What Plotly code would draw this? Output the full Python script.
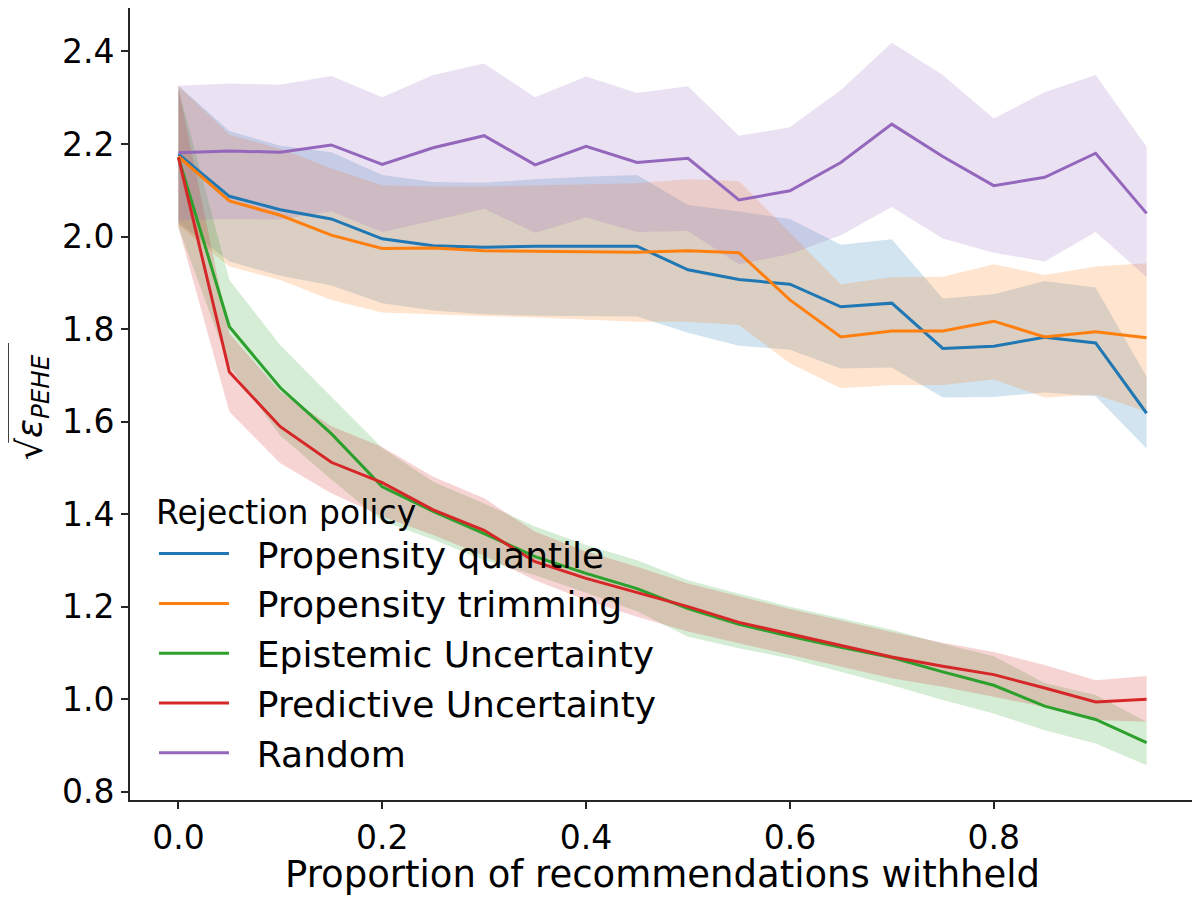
import plotly.graph_objects as go

x_vals = [0.0, 0.05, 0.1, 0.15, 0.2, 0.25, 0.3, 0.35, 0.4, 0.45,
          0.5, 0.55, 0.6, 0.65, 0.7, 0.75, 0.8, 0.85, 0.9, 0.95]

series_names = ["Propensity quantile", "Propensity trimming", "Epistemic Uncertainty",
                "Predictive Uncertainty", "Random"]

quantile_mean = [2.178, 2.087, 2.058, 2.038, 1.995, 1.980, 1.977, 1.979, 1.979, 1.979,
                 1.928, 1.907, 1.897, 1.848, 1.856, 1.758, 1.763, 1.782, 1.770, 1.618]
quantile_upper = [2.326, 2.228, 2.196, 2.182, 2.133, 2.118, 2.116, 2.124, 2.129, 2.133,
                  2.068, 2.054, 2.038, 1.982, 1.994, 1.866, 1.875, 1.904, 1.890, 1.697]
quantile_lower = [2.030, 1.946, 1.915, 1.894, 1.856, 1.840, 1.832, 1.829, 1.828, 1.827,
                  1.792, 1.764, 1.755, 1.715, 1.717, 1.652, 1.653, 1.663, 1.655, 1.542]

trimming_mean = [2.173, 2.077, 2.046, 2.003, 1.974, 1.975, 1.969, 1.968, 1.966, 1.966,
                 1.969, 1.965, 1.863, 1.783, 1.796, 1.796, 1.817, 1.783, 1.794, 1.781]
trimming_upper = [2.326, 2.220, 2.190, 2.147, 2.111, 2.108, 2.108, 2.110, 2.112, 2.115,
                  2.124, 2.120, 2.008, 1.897, 1.912, 1.913, 1.940, 1.917, 1.935, 1.942]
trimming_lower = [2.025, 1.935, 1.906, 1.863, 1.836, 1.832, 1.828, 1.825, 1.821, 1.816,
                  1.816, 1.809, 1.726, 1.672, 1.679, 1.679, 1.691, 1.652, 1.658, 1.621]

epistemic_mean = [2.171, 1.805, 1.673, 1.574, 1.459, 1.406, 1.358, 1.308, 1.272, 1.239,
                  1.196, 1.162, 1.136, 1.112, 1.090, 1.059, 1.030, 0.985, 0.956, 0.906]
epistemic_upper = [2.320, 1.906, 1.765, 1.655, 1.543, 1.470, 1.423, 1.373, 1.333, 1.300,
                   1.257, 1.228, 1.200, 1.175, 1.150, 1.120, 1.093, 1.035, 1.009, 0.951]
epistemic_lower = [2.020, 1.720, 1.570, 1.475, 1.385, 1.345, 1.300, 1.268, 1.230, 1.190,
                   1.135, 1.110, 1.088, 1.059, 1.030, 0.998, 0.969, 0.933, 0.904, 0.857]

predictive_mean = [2.171, 1.707, 1.589, 1.512, 1.468, 1.409, 1.365, 1.297, 1.261, 1.230,
                   1.200, 1.166, 1.141, 1.117, 1.091, 1.071, 1.053, 1.024, 0.994, 1.000]
predictive_upper = [2.320, 1.790, 1.665, 1.590, 1.545, 1.481, 1.434, 1.362, 1.319, 1.286,
                    1.250, 1.222, 1.195, 1.170, 1.145, 1.122, 1.102, 1.074, 1.041, 1.050]
predictive_lower = [2.020, 1.621, 1.510, 1.445, 1.395, 1.355, 1.310, 1.257, 1.214, 1.178,
                    1.146, 1.120, 1.095, 1.070, 1.045, 1.027, 1.005, 0.983, 0.955, 0.951]

random_mean = [2.181, 2.185, 2.182, 2.198, 2.156, 2.192, 2.218, 2.155, 2.195, 2.160,
               2.169, 2.079, 2.099, 2.160, 2.243, 2.173, 2.110, 2.128, 2.180, 2.050]
random_upper = [2.326, 2.331, 2.328, 2.347, 2.301, 2.349, 2.374, 2.301, 2.346, 2.310,
                2.325, 2.218, 2.236, 2.317, 2.419, 2.349, 2.255, 2.312, 2.349, 2.194]
random_lower = [2.035, 2.038, 2.037, 2.054, 2.010, 2.034, 2.060, 2.008, 2.041, 2.010,
                2.012, 1.940, 1.962, 2.003, 2.064, 1.996, 1.965, 1.946, 2.010, 1.912]

x_ticks = [0.0, 0.2, 0.4, 0.6, 0.8]
y_ticks = [0.8, 1.0, 1.2, 1.4, 1.6, 1.8, 2.0, 2.2, 2.4]

colors = ["#1f77b4", "#ff7f0e", "#2ca02c", "#d62728", "#9467bd"]
band_colors = ["rgba(31,119,180,0.2)", "rgba(255,127,14,0.2)", "rgba(44,160,44,0.2)",
               "rgba(214,39,40,0.2)", "rgba(148,103,189,0.2)"]

means = [quantile_mean, trimming_mean, epistemic_mean, predictive_mean, random_mean]
uppers = [quantile_upper, trimming_upper, epistemic_upper, predictive_upper, random_upper]
lowers = [quantile_lower, trimming_lower, epistemic_lower, predictive_lower, random_lower]

fig = go.Figure()

for i in range(5):
    fig.add_trace(go.Scatter(
        x=x_vals + x_vals[::-1],
        y=uppers[i] + lowers[i][::-1],
        fill="toself", fillcolor=band_colors[i],
        line=dict(width=0), mode="lines",
        showlegend=False, hoverinfo="skip"))

for i in range(5):
    fig.add_trace(go.Scatter(
        x=x_vals, y=means[i], mode="lines",
        name="\u00a0\u00a0" + series_names[i],
        line=dict(color=colors[i], width=3)))

font_family = "DejaVu Sans"

fig.update_layout(
    width=1200, height=900,
    paper_bgcolor="white", plot_bgcolor="white",
    margin=dict(l=122, r=13, t=0, b=108),
    font=dict(family=font_family, color="black"),
    showlegend=True,
    legend=dict(
        x=0.0225, y=0.403, xanchor="left", yanchor="top",
        bgcolor="rgba(0,0,0,0)",
        font=dict(size=36, family=font_family),
        title=dict(text="Rejection policy", font=dict(size=33, family=font_family)),
        itemwidth=70,
    ),
    xaxis=dict(
        range=[-0.0475, 0.9975], automargin=False,
        tickvals=x_ticks, ticktext=[f"{v:.1f}" for v in x_ticks],
        showline=True, linecolor="#262626", linewidth=1.8,
        ticks="outside", ticklen=7, tickwidth=1.6, tickcolor="#262626",
        showgrid=False, zeroline=False,
        tickfont=dict(size=33, family=font_family),
    ),
    yaxis=dict(
        range=[0.782, 2.494], automargin=False,
        tickvals=y_ticks, ticktext=[f"{v:.1f}" for v in y_ticks],
        showline=True, linecolor="#262626", linewidth=1.8,
        ticks="outside", ticklen=7, tickwidth=1.6, tickcolor="#262626",
        showgrid=False, zeroline=False,
        tickfont=dict(size=33, family=font_family),
    ),
)

# x-axis title
fig.add_annotation(
    xref="paper", yref="paper", x=0.5, y=-0.094,
    text="Proportion of recommendations withheld", showarrow=False,
    font=dict(size=37, family=font_family, color="black"),
    xanchor="center", yanchor="middle")

# y-axis title: square root of epsilon_PEHE
fig.add_annotation(
    xref="paper", yref="paper", x=-0.092, y=0.496,
    text="√<i>ε<sub>PEHE</sub></i>", showarrow=False, textangle=-90,
    font=dict(size=35, family=font_family, color="black"),
    xanchor="center", yanchor="middle")
fig.add_shape(type="line", xref="paper", yref="paper",
              x0=-0.1146, x1=-0.1146, y0=0.451, y1=0.577,
              line=dict(color="black", width=1.6))

fig.write_html("out.html")
